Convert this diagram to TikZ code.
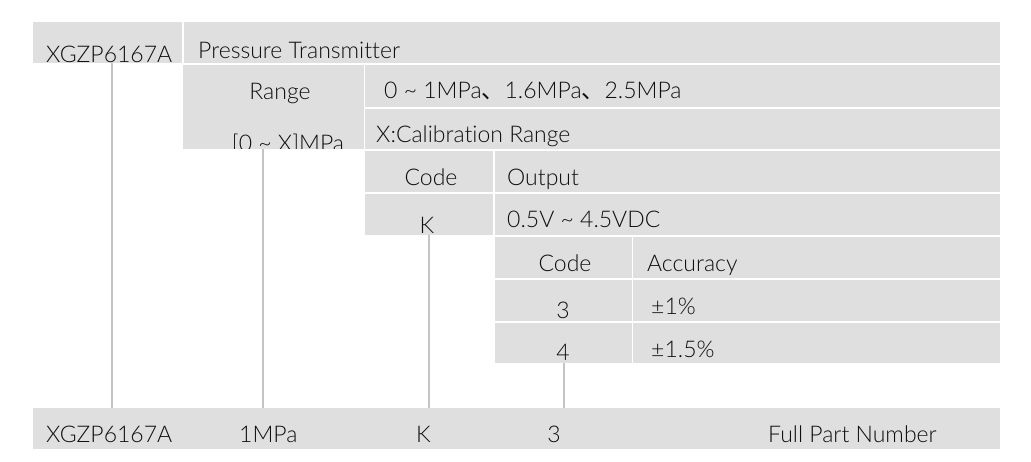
\documentclass[tikz,border=0pt]{standalone}
\usepackage{fontspec}
\setmainfont{Lato Light}[Ligatures=NoCommon]
\newfontfamily\cjkfont{Noto Sans CJK SC}
\definecolor{cellgray}{RGB}{223,223,223}
\definecolor{linegray}{RGB}{196,196,196}
\definecolor{txt}{RGB}{15,15,15}
\begin{document}
\begin{tikzpicture}[x=1pt,y=-1pt,
  cell/.style={fill=cellgray},
  lbl/.style={inner sep=0pt,anchor=base west,text=txt,font=\fontsize{23}{23}\selectfont},
  clbl/.style={inner sep=0pt,anchor=base,text=txt,font=\fontsize{23}{23}\selectfont},
  leader/.style={draw=linegray,line width=1.3pt}]
\useasboundingbox (0,0) rectangle (1031,461);
% cells
\path[cell] (33,22) rectangle (182,63);
\path[cell] (183.5,22) rectangle (1000,63);
\path[cell] (183,65) rectangle (364,149);
\path[cell] (365,65) rectangle (1000,107);
\path[cell] (365,108.5) rectangle (1000,149);
\path[cell] (365,151) rectangle (493,192);
\path[cell] (365,194) rectangle (493,235);
\path[cell] (494.5,151) rectangle (1000,192);
\path[cell] (494.5,194) rectangle (1000,235);
\path[cell] (494.5,236.5) rectangle (631.5,278);
\path[cell] (633,236.5) rectangle (1000,278);
\path[cell] (494.5,279.5) rectangle (631.5,321);
\path[cell] (633,279.5) rectangle (1000,321);
\path[cell] (494.5,322.5) rectangle (631.5,363);
\path[cell] (633,322.5) rectangle (1000,363);
\path[cell] (33,408) rectangle (1000,449);
% texts
\node[lbl] (model) at (46,62) {XGZP6167A};
\node[lbl] (pt) at (198,58) {Pressure Transmitter};
\node[clbl] (range) at (280,99) {Range};
\node[lbl] (rvals) at (384,98) {0 \textasciitilde{} 1MPa{\cjkfont 、}1.6MPa{\cjkfont 、}2.5MPa};
\begin{scope}
\clip (183,65) rectangle (364,148.5);
\node[clbl] (rx) at (288,151) {[0 \textasciitilde{} X]MPa};
\end{scope}
\node[lbl] (xcal) at (376,142) {X:Calibration Range};
\node[clbl] (code1) at (431,185) {Code};
\node[lbl] (output) at (507,185) {Output};
\node[clbl] (kcode) at (427,233) {K};
\node[lbl] (ovals) at (507,227) {0.5V \textasciitilde{} 4.5VDC};
\node[clbl] (code2) at (565,271) {Code};
\node[lbl] (acc) at (647,271) {Accuracy};
\node[clbl] (c3) at (563,318) {3};
\node[lbl] (a1) at (651,314) {±1\%};
\node[clbl] (c4) at (563,360) {4};
\node[lbl] (a15) at (651,357) {±1.5\%};
\node[lbl] (bmodel) at (46,442) {XGZP6167A};
\node[lbl] (brange) at (239,442) {1MPa};
\node[lbl] (bk) at (416,442) {K};
\node[clbl] (b3) at (554,442) {3};
\node[lbl] (fpn) at (768,442) {Full Part Number};
% leader coordinates
\coordinate (l1t) at (112,63);  \coordinate (l1b) at (112,407.5);
\coordinate (l2t) at (263,149); \coordinate (l2b) at (263,407.5);
\coordinate (l3t) at (429,235); \coordinate (l3b) at (429,407.5);
\coordinate (l4t) at (564,363); \coordinate (l4b) at (564,407.5);
\draw[leader] (l1t) -- (l1b);
\draw[leader] (l2t) -- (l2b);
\draw[leader] (l3t) -- (l3b);
\draw[leader] (l4t) -- (l4b);
\end{tikzpicture}
\end{document}
